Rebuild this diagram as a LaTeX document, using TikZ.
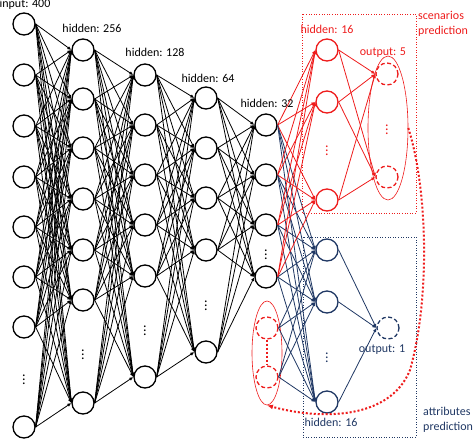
\documentclass[tikz,border=0pt]{standalone}
\usepackage{fontspec}
\setmainfont{Carlito}
\usepackage{xcolor}
\usepackage{tikz}
\usetikzlibrary{arrows.meta,shapes.geometric}
\definecolor{ink}{HTML}{000000}
\definecolor{scen}{HTML}{EE1C1C}
\definecolor{attr}{HTML}{203864}
\tikzset{
  unit/.style={circle, draw=ink, line width=1.3pt, minimum size=22pt, inner sep=0pt},
  ghost/.style={circle, draw, line width=1.3pt, dash pattern=on 4pt off 2.5pt, minimum size=22pt, inner sep=0pt},
  link/.style={line width=0.8pt, -{Latex[length=4pt,width=3.5pt]}},
  vdot/.style={font=\fontsize{14}{14}\selectfont, inner sep=0pt},
  lab/.style={font=\fontsize{12}{15}\selectfont, inner sep=0pt},
  group/.style={line width=0.6pt, dotted},
  ring/.style={ellipse, line width=0.6pt, inner sep=0pt},
}

\begin{document}
\begin{tikzpicture}[x=1pt,y=-1pt]
  \useasboundingbox (0,0) rectangle (474,440);

  % black layers
  \foreach \i/\y in {1/24,2/75,3/126,4/177,5/227,6/277,7/327,8/427}
    \node[unit] (in\i) at (24,\y) {};
  \foreach \i/\y in {1/50,2/99,3/148,4/199,5/250,6/300,7/403}
    \node[unit] (ha\i) at (83,\y) {};
  \foreach \i/\y in {1/75,2/125,3/175,4/225,5/276,6/377}
    \node[unit] (hb\i) at (145,\y) {};
  \foreach \i/\y in {1/98,2/148,3/198,4/250,5/352}
    \node[unit] (hc\i) at (206,\y) {};
  \foreach \i/\y in {1/125,2/175,3/225,4/277}
    \node[unit] (hd\i) at (266,\y) {};
  \node[vdot] (inv) at (24,377) {$\vdots$};
  \node[vdot] (hav) at (83,352) {$\vdots$};
  \node[vdot] (hbv) at (145,328) {$\vdots$};
  \node[vdot] (hcv) at (206,303) {$\vdots$};
  \node[vdot] (hdv) at (266,252) {$\vdots$};

  % scenarios branch
  \foreach \i/\y in {1/50,2/102,3/200}
    \node[unit, draw=scen] (sh\i) at (327,\y) {};
  \foreach \i/\y in {1/74,2/177}
    \node[ghost, draw=scen] (so\i) at (387,\y) {};
  \node[vdot, text=scen] (shv) at (327,148) {$\vdots$};
  \node[vdot, text=scen] (sov) at (387,127) {$\vdots$};
  \node[ring, draw=scen, minimum width=40pt, minimum height=144pt] (soring) at (388,128) {};

  % attributes branch
  \foreach \i/\y in {1/250,2/302,3/402}
    \node[unit, draw=attr] (ah\i) at (327,\y) {};
  \node[ghost, draw=attr] (ao) at (388,328) {};
  \node[vdot, text=attr] (ahv) at (327,355) {$\vdots$};
  \foreach \i/\y in {1/328,2/377}
    \node[ghost, draw=scen] (si\i) at (267,\y) {};
  \node[ring, draw=scen, minimum width=30pt, minimum height=104pt] (siring) at (267,353) {};
  \draw[scen, line width=2pt, dotted] (si1.south) -- (si2.north);

  % connections
  \foreach \a in {1,...,8} \foreach \b in {1,...,7}
    \draw[link] (in\a.east) -- (ha\b.west);
  \foreach \a in {1,...,7} \foreach \b in {1,...,6}
    \draw[link] (ha\a.east) -- (hb\b.west);
  \foreach \a in {1,...,6} \foreach \b in {1,...,5}
    \draw[link] (hb\a.east) -- (hc\b.west);
  \foreach \a in {1,...,5} \foreach \b in {1,...,4}
    \draw[link] (hc\a.east) -- (hd\b.west);
  \foreach \a in {1,...,4} \foreach \b in {1,...,3} {
    \draw[link, scen] (hd\a.east) -- (sh\b.west);
    \draw[link, attr] (hd\a.east) -- (ah\b.west);
  }
  \foreach \a in {1,...,3} \foreach \b in {1,2}
    \draw[link, scen] (sh\a.east) -- (so\b.west);
  \foreach \a in {1,2} \foreach \b in {1,...,3}
    \draw[link, attr] (si\a.east) -- (ah\b.west);
  \foreach \a in {1,...,3}
    \draw[link, attr] (ah\a.east) -- (ao.west);

  % boxes and feedback
  \draw[group, scen] (302,14) rectangle (416,213);
  \draw[group, attr] (303,237) rectangle (416,437);
  \draw[scen, line width=2pt, dotted, -{Latex[length=6pt,width=5pt]}]
    (soring.east) .. controls (428,190) and (430,300) .. (410,370)
    .. controls (390,420) and (320,420) .. (siring.south);

  % labels
  \node[lab] at (25,4) {input: 400};
  \node[lab] at (92,28) {hidden: 256};
  \node[lab] at (155,52) {hidden: 128};
  \node[lab] at (208,78) {hidden: 64};
  \node[lab] at (267,103) {hidden: 32};
  \node[lab, text=scen] at (327,29) {hidden: 16};
  \node[lab, text=scen] at (383,53) {output: 5};
  \node[lab, text=scen, align=left, anchor=west] at (418,24) {scenarios\\prediction};
  \node[lab, text=attr] at (382,350) {output: 1};
  \node[lab, text=attr] at (331,422) {hidden: 16};
  \node[lab, text=attr, align=left, anchor=west] at (423,420) {attributes\\prediction};
\end{tikzpicture}
\end{document}
